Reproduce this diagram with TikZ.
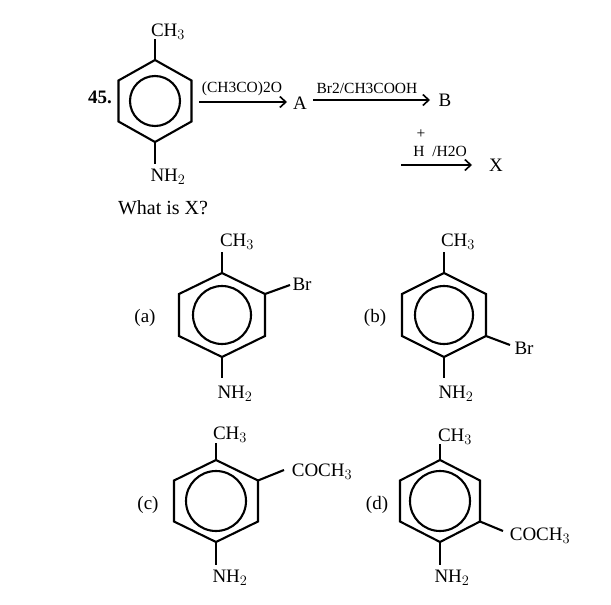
\documentclass[tikz,border=0pt]{standalone}
\usetikzlibrary{arrows.meta}
\usepackage{fontspec}
\setmainfont{Liberation Serif}
\begin{document}
\begin{tikzpicture}[x=1pt,y=-1pt,line width=2.1pt,
  lbl/.style={inner sep=0pt,font=\fontsize{19}{20}\selectfont},
  rg/.style={inner sep=0pt,font=\fontsize{15.5}{17}\selectfont},
  arr/.style={-{Straight Barb[length=6pt,width=11pt]},line width=1.6pt}]
\useasboundingbox (0,0) rectangle (611,605);
\newcommand{\benz}[6]{%
  \draw (#1,#2-#4) coordinate (#6t) -- (#1+#3,#2-#4/2) coordinate (#6ur) -- (#1+#3,#2+#4/2) coordinate (#6lr)
   -- (#1,#2+#4) coordinate (#6b) -- (#1-#3,#2+#4/2) -- (#1-#3,#2-#4/2) -- cycle;
  \draw (#1,#2) circle (#5);}
% main
\benz{155}{101}{36.5}{41}{25}{m}
\node[lbl] (mch) at (168,32) {CH$_3$};
\node[lbl] (mnh) at (168,177) {NH$_2$};
\coordinate (mc1) at (155,39); \coordinate (mn1) at (155,164);
\draw (mt) -- (mc1); \draw (mb) -- (mn1);
\node[lbl,font=\fontsize{19}{20}\selectfont\bfseries] (n45) at (100,97) {45.};
\coordinate (a1s) at (199,102); \coordinate (a1e) at (287,102);
\draw[arr] (a1s) -- (a1e);
\node[rg] (r1) at (242,89) {(CH3CO)2O};
\node[lbl] (A) at (300,103) {A};
\coordinate (a2s) at (313,100); \coordinate (a2e) at (430,100);
\draw[arr] (a2s) -- (a2e);
\node[rg] (r2) at (367,88) {Br2/CH3COOH};
\node[lbl] (B) at (445,100) {B};
\node[rg] (plus) at (421,134) {+};
\node[rg] (r3) at (440,151) {H\ \ /H2O};
\coordinate (a3s) at (401,165); \coordinate (a3e) at (472,165);
\draw[arr] (a3s) -- (a3e);
\node[lbl] (X) at (496,165) {X};
\node[lbl,font=\fontsize{20}{22}\selectfont] (q) at (163,208) {What is X?};
% (a)
\benz{222}{315}{43}{42}{29}{a}
\node[lbl] (ach) at (237,242) {CH$_3$};
\node[lbl] (anh) at (235,394) {NH$_2$};
\node[lbl] (abr) at (302,284) {Br};
\node[lbl] (la) at (145,318) {(a)};
\coordinate (ac) at (222,252); \coordinate (an) at (222,378); \coordinate (abe) at (290,285);
\draw (at) -- (ac); \draw (ab) -- (an); \draw (aur) -- (abe);
% (b)
\benz{444}{315}{42}{42}{29}{b}
\node[lbl] (bch) at (458,242) {CH$_3$};
\node[lbl] (bnh) at (456,394) {NH$_2$};
\node[lbl] (bbr) at (524,348) {Br};
\node[lbl] (lb) at (375,318) {(b)};
\coordinate (bc) at (444,252); \coordinate (bn) at (444,378); \coordinate (bbe) at (510,345);
\draw (bt) -- (bc); \draw (bb) -- (bn); \draw (blr) -- (bbe);
% (c)
\benz{216}{501}{42}{41}{30}{c}
\node[lbl] (cch) at (230,435) {CH$_3$};
\node[lbl] (cnh) at (230,578) {NH$_2$};
\node[lbl] (cco) at (322,472) {COCH$_3$};
\node[lbl] (lc) at (148,505) {(c)};
\coordinate (cc) at (216,443); \coordinate (cn) at (216,565); \coordinate (cce) at (284,470);
\draw (ct) -- (cc); \draw (cb) -- (cn); \draw (cur) -- (cce);
% (d)
\benz{440}{501}{40}{41}{30}{d}
\node[lbl] (dch) at (455,437) {CH$_3$};
\node[lbl] (dnh) at (452,578) {NH$_2$};
\node[lbl] (dco) at (540,536) {COCH$_3$};
\node[lbl] (ld) at (377,505) {(d)};
\coordinate (dc) at (440,444); \coordinate (dn) at (440,565); \coordinate (dce) at (503,531);
\draw (dt) -- (dc); \draw (db) -- (dn); \draw (dlr) -- (dce);
\end{tikzpicture}
\end{document}
